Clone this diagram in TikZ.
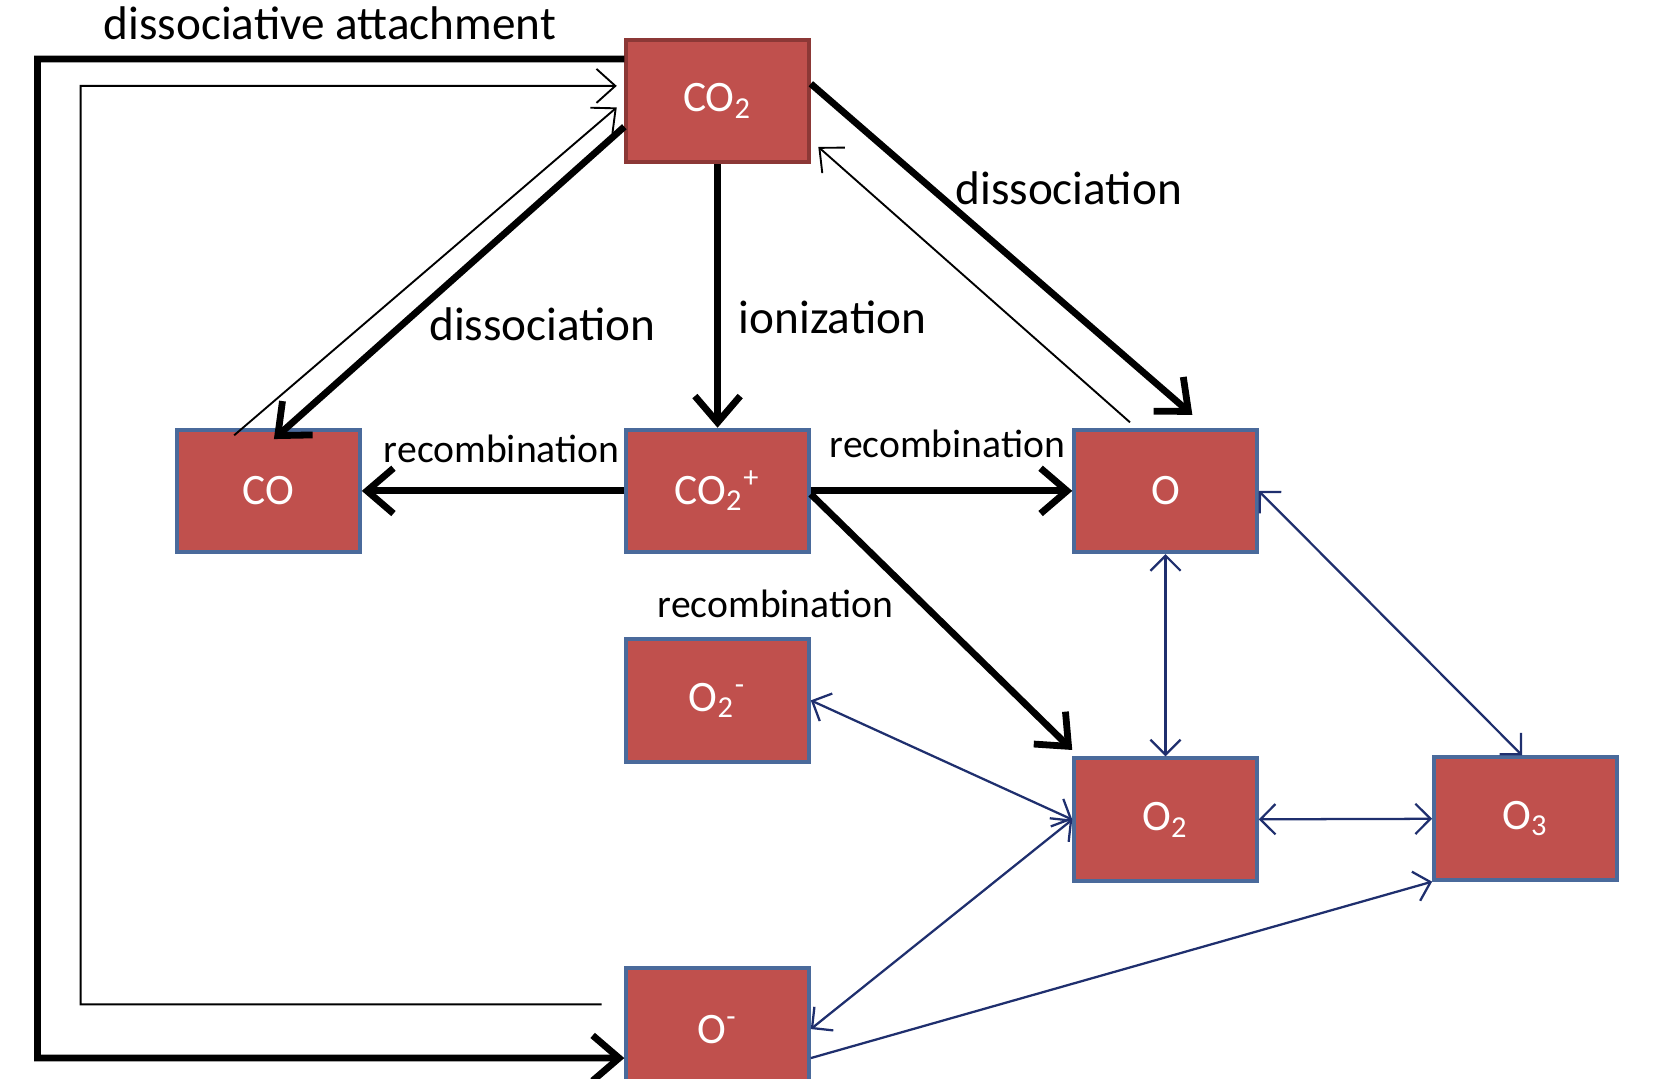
\documentclass[tikz,border=0pt]{standalone}
\usepackage{fontspec}
\setmainfont{Carlito}
\usetikzlibrary{arrows.meta}
\definecolor{boxred}{HTML}{C0504D}
\definecolor{boxblue}{HTML}{4A6A9B}
\definecolor{darkred}{HTML}{8C3836}
\definecolor{linkblue}{HTML}{1F2F6E}
\begin{document}
\begin{tikzpicture}[x=0.01cm,y=-0.01cm,
    species/.style={draw=boxblue, line width=1pt, fill=boxred, text=white,
        minimum width=1.7cm, minimum height=1.14cm, inner sep=0pt, font=\fontsize{11.5}{14}\selectfont},
    main/.style={line width=1.8pt, -{Straight Barb[length=7pt,width=12pt,line width=1.8pt]}},
    back/.style={line width=0.5pt, -{Straight Barb[length=5pt,width=9pt]}},
    link/.style={draw=linkblue, line width=0.6pt, {Straight Barb[length=4pt,width=8pt]}-{Straight Barb[length=4pt,width=8pt]}},
    big/.style={font=\fontsize{12.5}{15}\selectfont},
    small/.style={font=\fontsize{10.5}{13}\selectfont}]
    \useasboundingbox (0,0) rectangle (1550,1004);
    % species
    \node[species, draw=darkred] (CO2) at (668,94) {CO\textsubscript{2}};
    \node[species] (CO) at (250,457) {CO};
    \node[species] (CO2p) at (668,457) {CO\textsubscript{2}\textsuperscript{+}};
    \node[species] (O) at (1085,457) {O};
    \node[species] (O2m) at (668,652) {O\textsubscript{2}\textsuperscript{-}};
    \node[species] (O2) at (1085,763) {O\textsubscript{2}};
    \node[species] (O3) at (1420,762) {O\textsubscript{3}};
    \node[species] (Om) at (668,958) {O\textsuperscript{-}};
    % dissociative attachment loop
    \coordinate (attA) at (35,55);
    \coordinate (attB) at (35,985);
    \draw[main] ([yshift=0.39cm]CO2.west) -- (attA) -- (attB) -- ([yshift=-0.27cm]Om.west);
    \coordinate (retA) at (75,935);
    \coordinate (retB) at (75,80);
    \draw[back] ([xshift=-6pt,yshift=0.23cm]Om.west) -- (retA) -- (retB) -- ([xshift=-2pt,yshift=0.14cm]CO2.west);
    \node[big] (attlbl) at (307,22) {dissociative attachment};
    % from CO2
    \draw[main] ([yshift=-0.24cm]CO2.west) -- ([xshift=0.05cm,yshift=-3pt]CO.north);
    \draw[back] ([xshift=-0.32cm,yshift=-2pt]CO.north) -- ([xshift=-2pt,yshift=-0.06cm]CO2.west);
    \draw[main] ([yshift=0.16cm]CO2.east) -- ([xshift=0.25cm,yshift=0.12cm]O.north);
    \draw[back] ([xshift=-0.33cm,yshift=0.05cm]O.north) -- ([xshift=0.07cm,yshift=0.16cm]CO2.south east);
    \draw[main] (CO2) -- (CO2p);
    \node[big] (dislA) at (505,302) {dissociation};
    \node[big] (dislB) at (995,175) {dissociation};
    \node[big] (ionl) at (775,295) {ionization};
    % recombination
    \draw[main] (CO2p) -- (CO);
    \draw[main] (CO2p) -- (O);
    \draw[main] ([yshift=-0.03cm]CO2p.east) -- ([yshift=0.06cm]O2.north west);
    \node[small] (recA) at (467,418) {recombination};
    \node[small] (recB) at (882,413) {recombination};
    \node[small] (recC) at (722,562) {recombination};
    % oxygen reactions
    \draw[link] (O) -- (O2);
    \draw[link] (O.east) -- ([xshift=-0.03cm]O3.north);
    \draw[link] (O2m.east) -- (O2.west);
    \draw[link] (O2) -- (O3);
    \draw[link] (Om.east) -- (O2.west);
    \draw[draw=linkblue, line width=0.6pt, -{Straight Barb[length=4pt,width=8pt]}] ([yshift=-0.27cm]Om.east) -- (O3.south west);
\end{tikzpicture}
\end{document}
